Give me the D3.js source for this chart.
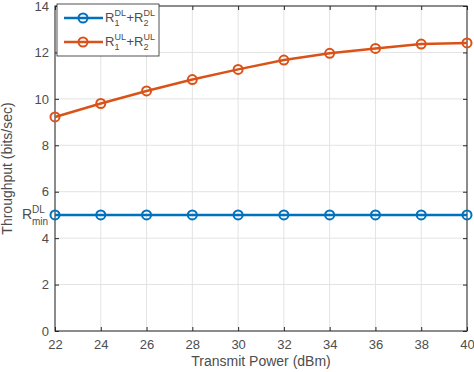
<!DOCTYPE html>
<html>
<head>
<meta charset="utf-8">
<script src="https://cdn.jsdelivr.net/npm/d3@7"></script>
<style>
  body { margin: 0; background: #fff; }
  text { font-family: "Liberation Sans", Arial, sans-serif; fill: #4d4d4d; }
</style>
</head>
<body>
<svg id="chart" width="474" height="372"></svg>
<script>
const power = [22, 24, 26, 28, 30, 32, 34, 36, 38, 40];
const dlSum = [5, 5, 5, 5, 5, 5, 5, 5, 5, 5];
const ulSum = [9.22, 9.8, 10.34, 10.83, 11.27, 11.67, 11.96, 12.17, 12.36, 12.41];
const xTicks = [22, 24, 26, 28, 30, 32, 34, 36, 38, 40];
const yTicks = [0, 2, 4, 6, 8, 10, 12, 14];
const rMinDL = 5;

const svg = d3.select("#chart");
const m = {left: 55, right: 7, top: 6, bottom: 41};
const W = 474, H = 372;

const x = d3.scaleLinear().domain([22, 40]).range([m.left, W - m.right]);
const y = d3.scaleLinear().domain([0, 14]).range([H - m.bottom, m.top]);

// grid
svg.append("g").selectAll("line").data(xTicks).join("line")
  .attr("x1", d => x(d)).attr("x2", d => x(d))
  .attr("y1", y(0)).attr("y2", y(14))
  .attr("stroke", "#e3e3e3").attr("stroke-width", 1);
svg.append("g").selectAll("line").data(yTicks).join("line")
  .attr("y1", d => y(d)).attr("y2", d => y(d))
  .attr("x1", x(22)).attr("x2", x(40))
  .attr("stroke", "#e3e3e3").attr("stroke-width", 1);

// axes with inward ticks
const axisColor = "#262626";
function styleAxis(g) {
  g.select(".domain").remove();
  g.selectAll(".tick line").attr("stroke", axisColor);
  g.selectAll(".tick text").attr("fill", "#4d4d4d").style("font-size", "13px")
    .style("font-family", "Liberation Sans, Arial, sans-serif");
}
svg.append("g").attr("transform", `translate(0,${y(0)})`)
  .call(d3.axisBottom(x).tickValues(xTicks).tickSize(-4).tickPadding(9))
  .call(styleAxis);
svg.append("g").attr("transform", `translate(0,${y(14)})`)
  .call(d3.axisTop(x).tickValues(xTicks).tickSize(-4).tickFormat(""))
  .call(styleAxis);
svg.append("g").attr("transform", `translate(${x(22)},0)`)
  .call(d3.axisLeft(y).tickValues(yTicks).tickSize(-4).tickPadding(6))
  .call(styleAxis);
svg.append("g").attr("transform", `translate(${x(40)},0)`)
  .call(d3.axisRight(y).tickValues(yTicks).tickSize(-4).tickFormat(""))
  .call(styleAxis);

svg.append("rect")
  .attr("x", x(22)).attr("y", y(14))
  .attr("width", x(40) - x(22)).attr("height", y(0) - y(14))
  .attr("fill", "none").attr("stroke", axisColor).attr("stroke-width", 1);

// series
const series = [
  {vals: dlSum, color: "#0072BD"},
  {vals: ulSum, color: "#D95319"}
];
const line = d3.line().x((d, i) => x(power[i])).y(d => y(d));
series.forEach(s => {
  svg.append("path").datum(s.vals)
    .attr("d", line).attr("fill", "none")
    .attr("stroke", s.color).attr("stroke-width", 2.5);
  svg.append("g").selectAll("circle").data(s.vals).join("circle")
    .attr("cx", (d, i) => x(power[i])).attr("cy", d => y(d)).attr("r", 4.5)
    .attr("fill", "none").attr("stroke", s.color).attr("stroke-width", 2);
});

// R_min^DL annotation at left of y axis
svg.append("text").attr("x", 22).attr("y", y(rMinDL) + 4)
  .style("font-size", "14px").text("R");
svg.append("text").attr("x", 32).attr("y", y(rMinDL) - 2)
  .style("font-size", "10px").text("DL");
svg.append("text").attr("x", 32).attr("y", y(rMinDL) + 10)
  .style("font-size", "10px").text("min");

// axis titles
svg.append("text")
  .attr("transform", `translate(12,${(y(0) + y(14)) / 2}) rotate(-90)`)
  .attr("text-anchor", "middle").style("font-size", "14px")
  .text("Throughput (bits/sec)");
svg.append("text")
  .attr("x", (x(22) + x(40)) / 2).attr("y", 366)
  .attr("text-anchor", "middle").style("font-size", "14px")
  .text("Transmit Power (dBm)");

// legend
const lg = svg.append("g");
lg.append("rect").attr("x", 57).attr("y", 4).attr("width", 102).attr("height", 52)
  .attr("fill", "#fff").attr("stroke", axisColor).attr("stroke-width", 0.8);
const legendItems = [
  {sup: "DL", color: series[0].color, ly: 18},
  {sup: "UL", color: series[1].color, ly: 42}
];
// write R_1^sup + R_2^sup piece by piece, measuring each width
function putText(g, str, px, py, size) {
  const t = g.append("text").attr("x", px).attr("y", py).style("font-size", size + "px").text(str);
  return t.node().getComputedTextLength();
}
legendItems.forEach(it => {
  lg.append("line").attr("x1", 64).attr("x2", 103).attr("y1", it.ly).attr("y2", it.ly)
    .attr("stroke", it.color).attr("stroke-width", 2.5);
  lg.append("circle").attr("cx", 83).attr("cy", it.ly).attr("r", 4.5)
    .attr("fill", "none").attr("stroke", it.color).attr("stroke-width", 2);
  let cx = 105;
  const base = it.ly + 4;
  cx += putText(lg, "R", cx, base, 13);
  let wSup = putText(lg, it.sup, cx, base - 6, 9);
  let wSub = putText(lg, "1", cx, base + 4, 9);
  cx += Math.max(wSup, wSub) + 0.5;
  cx += putText(lg, "+R", cx, base, 13);
  wSup = putText(lg, it.sup, cx, base - 6, 9);
  putText(lg, "2", cx, base + 4, 9);
});
</script>
</body>
</html>
